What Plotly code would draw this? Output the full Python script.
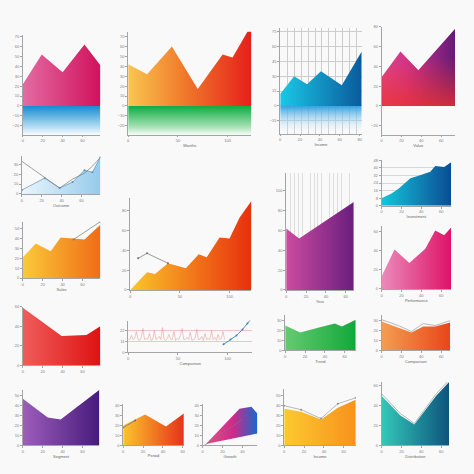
import plotly.graph_objects as go

W = H = 474

# ---------------- data ----------------
P1_X = [0, 19, 40, 62, 78]
P1_Y = [22, 52, 34, 62, 41]
P1_NEG = -29

P2_X = [0, 19, 44, 70, 95, 105, 112, 124]
P2_Y = [42, 32, 60, 17, 52, 49, 61, 82]
P2_NEG = -29

P3_X = [0, 14, 27, 41, 62, 82]
P3_Y = [12, 30, 22, 35, 21, 55]
P3_NEG = -28

P4_X = [0, 19, 37, 74]
P4_Y = [29, 55, 36, 78]

P5_X = [0, 23, 38, 51, 63, 71, 79]
P5_Y = [4, 16, 6, 12, 24, 22, 37]
P5_LX = [0, 38, 51, 63, 71, 79]
P5_LY = [33, 6, 15, 21, 28, 37]

P6_X = [0, 13, 28, 38, 62, 78]
P6_Y = [21, 35, 27, 41, 39, 54]
P6_LX = [51, 78]
P6_LY = [39, 57]

P7_X = [0, 17, 25, 38, 56, 69, 77, 90, 100, 110, 122]
P7_Y = [0, 18, 16, 27, 22, 36, 33, 53, 52, 73, 90]
P7_LX = [8, 17, 38]
P7_LY = [32, 37, 27]

P8_X = [0, 13, 68]
P8_Y = [62, 52, 89]

P9_X = [0, 10, 17, 29, 38, 49, 54, 63, 70]
P9_Y = [8, 13, 18, 29, 32, 36, 42, 41, 46]

P10_X = [0, 13, 28, 44, 54, 63, 70]
P10_Y = [13, 41, 27, 42, 61, 56, 64]

P11_X = [0, 39, 64, 78]
P11_Y = [59, 30, 31, 40]

P12_RED = [13, 13, 17, 13, 14, 21, 13, 12, 15, 24, 13, 14, 13, 19, 12, 13, 22, 13, 14, 16,
           13, 25, 13, 12, 14, 18, 13, 13, 21, 12, 14, 13, 17, 24, 13, 13, 15, 13, 20, 12,
           13, 14, 23, 13, 13, 16, 12, 19, 13, 14, 13, 22, 13, 15, 12, 18, 13, 14, 21, 13]
P12_BX = [96, 103, 109, 115, 120, 124]
P12_BY = [8, 13, 17, 23, 29, 34]

P13_X = [0, 15, 34, 50, 57, 71]
P13_Y = [25, 18, 23, 27, 24, 31]

P14_X = [0, 17, 30, 42, 54, 69]
P14_Y = [29, 23, 18, 24, 24, 28]
P14_LY = [31, 25, 19, 27, 25, 30]

P15_X = [0, 25, 38, 77]
P15_Y = [47, 28, 26, 56]

P16_X = [0, 22, 43, 61]
P16_Y = [20, 31, 19, 32]
P16_LX = [0, 12]
P16_LY = [18, 25]

P17_X = [2, 30, 37, 49, 55]
P17_Y = [0, 29, 37, 39, 32]
P17_LOWX = [2, 55]
P17_LOWY = [1, 12]

P18_X = [0, 17, 37, 54, 72]
P18_Y = [37, 34, 26, 38, 46]
P18_LY = [40, 36, 27, 42, 48]

P19_X = [0, 19, 33, 55, 68]
P19_Y = [50, 30, 21, 50, 64]
P19_LY = [52, 32, 22, 52, 66]

# ---------------- helpers ----------------
fig = go.Figure()
layout = {}


def nm(i):
    return '' if i == 1 else str(i)


def add_axes(i, box, xr, yr, xtitle=None, xgrid=False, ygrid=False,
             xminor=None, ydtick=None, gridcolor='#c4c4c4'):
    x0, x1, yt, yb = box
    common = dict(showline=True, linecolor='#a4a4a4', linewidth=0.7,
                  ticks='outside', ticklen=2, tickwidth=0.6, tickcolor='#a4a4a4',
                  tickfont=dict(size=4, color='#808080', family='Liberation Sans'),
                  zeroline=False, fixedrange=True, gridwidth=0.6,
                  gridcolor=gridcolor)
    xa = dict(domain=[x0 / W, x1 / W], anchor='y' + nm(i), range=xr,
              showgrid=xgrid, nticks=5, **common)
    if xminor:
        xa['minor'] = dict(dtick=xminor, showgrid=True, gridcolor=gridcolor,
                           gridwidth=0.6, ticks='')
    if xtitle:
        xa['title'] = dict(text=xtitle, standoff=1,
                           font=dict(size=4, color='#666', family='Liberation Sans'))
    ya = dict(domain=[1 - yb / H, 1 - yt / H], anchor='x' + nm(i), range=yr,
              showgrid=ygrid, nticks=6, **common)
    if ydtick:
        ya['dtick'] = ydtick
    layout['xaxis' + nm(i)] = xa
    layout['yaxis' + nm(i)] = ya


def area(i, x, y, scale, gtype='horizontal', fill='tozeroy', start=None, stop=None):
    fg = dict(type=gtype, colorscale=scale)
    if start is not None:
        fg['start'] = start
        fg['stop'] = stop
    fig.add_trace(go.Scatter(x=x, y=y, mode='lines', line=dict(width=0),
                             fill=fill, fillgradient=fg,
                             xaxis='x' + nm(i), yaxis='y' + nm(i),
                             hoverinfo='skip', showlegend=False))


def line(i, x, y, color='#8a8a8a', width=0.8, markers=False):
    fig.add_trace(go.Scatter(x=x, y=y, mode='lines+markers' if markers else 'lines',
                             line=dict(width=width, color=color),
                             marker=dict(size=2, color=color),
                             xaxis='x' + nm(i), yaxis='y' + nm(i),
                             hoverinfo='skip', showlegend=False))


def neg_block(i, xmax, neg, scale):
    area(i, [0, xmax], [neg, neg], scale, gtype='vertical', start=neg, stop=0)


# ---------------- panels ----------------
# 1 pink + blue
add_axes(1, (22, 100, 32, 133), [0, 78], [-29, 72], ydtick=10)
area(1, P1_X, P1_Y, [[0, '#e36ba2'], [1, '#d0125c']])
neg_block(1, 78, P1_NEG, [[0, '#ffffff'], [0.35, '#a9d7f1'], [1, '#1a8fd2']])

# 2 orange/red + green
add_axes(2, (128, 252, 29, 133), [0, 124], [-29, 75], xtitle='Months', ydtick=10)
area(2, P2_X, P2_Y, [[0, '#f9c650'], [0.45, '#f07a2a'], [1, '#e6201c']])
neg_block(2, 124, P2_NEG, [[0, '#ffffff'], [0.3, '#a8e2b6'], [1, '#12ad45']])

# 3 blue with grid
add_axes(3, (281, 363, 25, 132), [0, 82], [-28, 79], xtitle='Income',
         ygrid=True, xminor=7, ydtick=15, gridcolor='#cdcdcd')
area(3, P3_X, P3_Y, [[0, '#1ac8e6'], [1, '#0a5a9c']])
neg_block(3, 82, P3_NEG, [[0, 'rgba(255,255,255,0)'], [1, 'rgba(50,160,225,0.95)']])

# 4 pink/purple
add_axes(4, (383, 457, 24, 133), [0, 74], [-29, 80], xtitle='Value')
area(4, P4_X, P4_Y, [[0, '#e0458c'], [0.35, '#d0338c'], [1, '#641a78']])
area(4, P4_X, P4_Y, [[0, 'rgba(236,50,40,0.75)'], [1, 'rgba(236,50,40,0)']],
     gtype='vertical', start=0, stop=50)

# 5 light blue
add_axes(5, (21, 100, 155, 193), [0, 79], [0, 38], xtitle='Outcome')
area(5, P5_X, P5_Y, [[0, '#eaf5fc'], [1, '#95cbea']])
line(5, P5_X, P5_Y, color='#5d92b8', width=0.7, markers=True)
line(5, P5_LX, P5_LY, color='#7a7a7a', width=0.7)

# 6 yellow/orange
add_axes(6, (22, 100, 221, 278), [0, 78], [0, 57], xtitle='Sales')
area(6, P6_X, P6_Y, [[0, '#fbc93a'], [1, '#ef6c16']])
line(6, P6_LX, P6_LY, color='#777777', width=0.7, markers=True)

# 7 big orange/red
add_axes(7, (130, 252, 197, 290), [0, 122], [0, 93])
area(7, P7_X, P7_Y, [[0, '#f9c72a'], [0.5, '#f27a1a'], [1, '#e6300e']])
line(7, P7_LX, P7_LY, color='#6f6f6f', width=0.7, markers=True)

# 8 purple with vertical lines
add_axes(8, (287, 355, 172, 290), [0, 68], [0, 118], xtitle='Year',
         xminor=4, gridcolor='#dedede')
area(8, P8_X, P8_Y, [[0, '#cc4ba0'], [1, '#6a1e7e']])

# 9 blue
add_axes(9, (383, 453, 159, 205), [0, 70], [0, 48], xtitle='Investment',
         ygrid=True, ydtick=8, gridcolor='#d8d8d8')
area(9, P9_X, P9_Y, [[0, '#14c6dc'], [1, '#0a4c94']])

# 10 pink
add_axes(10, (383, 453, 225, 289), [0, 70], [0, 66], xtitle='Performance')
area(10, P10_X, P10_Y, [[0, '#ea8cbb'], [1, '#de1268']])

# 11 red
add_axes(11, (22, 100, 307, 366), [0, 78], [0, 60])
area(11, P11_X, P11_Y, [[0, '#ef5d5b'], [1, '#de1212']])

# 12 noisy lines
add_axes(12, (128, 253, 321, 353), [0, 125], [0, 32], xtitle='Comparison',
         ygrid=True, ydtick=11, gridcolor='#efc6c6')
step = 97 / (len(P12_RED) - 1)
line(12, [k * step for k in range(len(P12_RED))], P12_RED,
     color='rgba(226,110,110,0.75)', width=0.5)
line(12, P12_BX, P12_BY, color='#3d80c4', width=0.9, markers=True)

# 13 green
add_axes(13, (286, 357, 315, 351), [0, 71], [0, 36], xtitle='Trend')
area(13, P13_X, P13_Y, [[0, '#64cb72'], [1, '#12a83a']])

# 14 orange
add_axes(14, (383, 452, 315, 351), [0, 69], [0, 36], xtitle='Comparison')
area(14, P14_X, P14_Y, [[0, '#f49e50'], [1, '#e8461a']])
line(14, P14_X, P14_LY, color='#8c8c8c', width=0.6)

# 15 purple
add_axes(15, (22, 99, 391, 447), [0, 77], [0, 56], xtitle='Segment')
area(15, P15_X, P15_Y, [[0, '#9d5dbb'], [1, '#471b7b']])

# 16 small orange
add_axes(16, (123, 184, 405, 447), [0, 61], [0, 42], xtitle='Period')
area(16, P16_X, P16_Y, [[0, '#fcc42c'], [1, '#e6321a']])
line(16, P16_LX, P16_LY, color='#5a6aa0', width=0.7, markers=True)

# 17 pink/blue wedge
add_axes(17, (203, 258, 405, 447), [0, 55], [0, 42], xtitle='Growth')
fig.add_trace(go.Scatter(x=P17_LOWX, y=P17_LOWY, mode='lines', line=dict(width=0),
                         xaxis='x17', yaxis='y17', hoverinfo='skip', showlegend=False))
area(17, P17_X, P17_Y, [[0, '#e8508a'], [0.55, '#cc2a8a'], [1, '#1668cc']], fill='tonexty')
line(17, [2, 40], [0, 26], color='#7a7a7a', width=0.6)

# 18 yellow
add_axes(18, (285, 357, 390, 447), [0, 72], [0, 57], xtitle='Income')
area(18, P18_X, P18_Y, [[0, '#fcc930'], [1, '#f8921c']])
line(18, P18_X, P18_LY, color='#8c8c8c', width=0.6, markers=True)

# 19 teal
add_axes(19, (383, 451, 383, 447), [0, 68], [0, 64], xtitle='Distribution')
area(19, P19_X, P19_Y, [[0, '#32c9b9'], [1, '#0e547c']])
line(19, P19_X, P19_LY, color='#8c8c8c', width=0.6)

fig.update_layout(width=W, height=H, margin=dict(l=0, r=0, t=0, b=0),
                  paper_bgcolor='#f9f9f9', plot_bgcolor='rgba(0,0,0,0)',
                  showlegend=False, **layout)

fig.write_html("out.html", config=dict(displayModeBar=False))
